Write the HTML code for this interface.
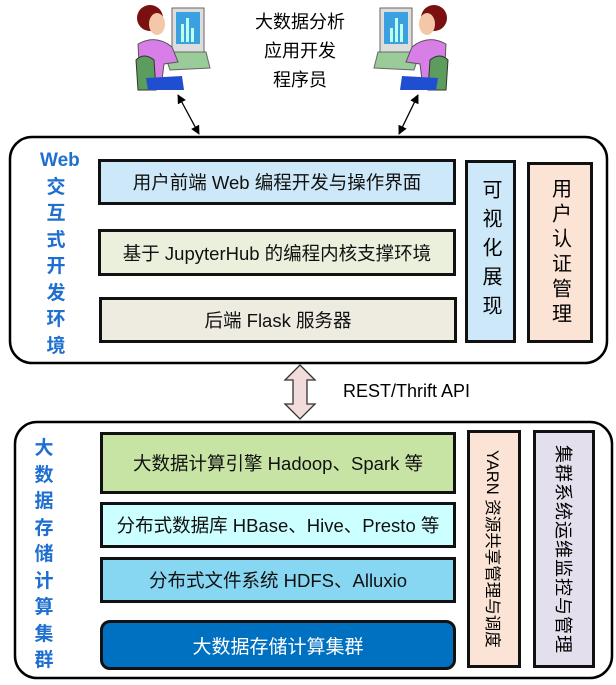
<!DOCTYPE html>
<html><head><meta charset="utf-8"><style>
body{margin:0;width:616px;height:685px;background:#fff;position:relative;overflow:hidden;font-family:"Liberation Sans","Noto Sans CJK SC",sans-serif}
.a{position:absolute;box-sizing:border-box}
.bx{border:3px solid #111;display:flex;align-items:center;justify-content:center;font-size:18.5px;color:#111;white-space:nowrap}
.v{writing-mode:vertical-rl;text-orientation:upright;display:flex;align-items:center;justify-content:center;font-size:20px;border:3px solid #111;letter-spacing:9px;white-space:nowrap}
.s{text-orientation:sideways;letter-spacing:0;font-size:16.5px}
.lbl{color:#1f6fd0;font-weight:bold;font-size:19px;text-align:center;line-height:26.5px}
</style></head><body>
<svg class="a" style="left:0;top:0" width="616" height="685">
<defs>
<g id="p">
<rect x="38" y="6" width="32" height="44" fill="#ddd" stroke="#666"/>
<rect x="42" y="10" width="24" height="32" fill="#3aa0e0"/>
<rect x="47" y="22" width="3" height="18" fill="#bfe"/><rect x="52" y="16" width="3" height="24" fill="#bfe"/><rect x="57" y="26" width="3" height="14" fill="#bfe"/>
<polygon points="30,50 72,50 76,66 36,68" fill="#9c9" stroke="#666"/>
<ellipse cx="16" cy="16" rx="13" ry="13" fill="#7a1010"/>
<ellipse cx="23" cy="22" rx="8" ry="11" fill="#f3c7a8"/>
<path d="M4 42 Q22 32 38 45 L44 60 L30 62 L28 78 L6 78Z" fill="#d77fe6" stroke="#555"/>
<path d="M2 58 Q10 50 20 58 L22 88 L4 88Z" fill="#5c9c5c" stroke="#333"/>
<path d="M12 76 L48 74 L50 88 L14 88Z" fill="#1f4fd0"/>
</g>
<marker id="ah" viewBox="0 0 10 10" refX="9" refY="5" markerWidth="7" markerHeight="7" orient="auto-start-reverse"><path d="M0 0L10 5L0 10Z" fill="#000"/></marker>
</defs>
<use href="#p" transform="translate(134,2)"/>
<use href="#p" transform="translate(450,2) scale(-1,1)"/>
<line x1="178" y1="95" x2="199" y2="134" stroke="#000" stroke-width="1.3" marker-start="url(#ah)" marker-end="url(#ah)"/>
<line x1="418" y1="95" x2="399" y2="134" stroke="#000" stroke-width="1.3" marker-start="url(#ah)" marker-end="url(#ah)"/>
<rect x="10" y="137" width="597" height="226" rx="22" fill="none" stroke="#000" stroke-width="2.5"/>
<rect x="15" y="422" width="597" height="256" rx="22" fill="none" stroke="#000" stroke-width="2.5"/>
<polygon points="300,365 315,380 307,380 307,404 315,404 300,419 285,404 293,404 293,380 285,380" fill="#f2dcdb" stroke="#333" stroke-width="1.3"/>
</svg>
<div class="a" style="left:240px;top:8px;width:120px;text-align:center;font-size:18px;line-height:29px">大数据分析<br>应用开发<br>程序员</div>
<div class="a lbl" style="left:40px;top:148px;width:32px">Web<br>交<br>互<br>式<br>开<br>发<br>环<br>境</div>
<div class="a bx" style="left:98px;top:159px;width:358px;height:46px;background:#cde8f8">用户前端 Web 编程开发与操作界面</div>
<div class="a bx" style="left:98px;top:229px;width:358px;height:47px;background:#eaf0dc">基于 JupyterHub 的编程内核支撑环境</div>
<div class="a bx" style="left:99px;top:297px;width:358px;height:46px;background:#eeece0">后端 Flask 服务器</div>
<div class="a v" style="left:465px;top:160px;width:51px;height:183px;background:#cde8f8">可视化展现</div>
<div class="a v" style="left:527px;top:162px;width:66px;height:181px;background:#fbe4d5;letter-spacing:5px">用户认证管理</div>
<div class="a" style="left:343px;top:381px;font-size:18px">REST/Thrift API</div>
<div class="a lbl" style="left:28px;top:436px;width:32px">大<br>数<br>据<br>存<br>储<br>计<br>算<br>集<br>群</div>
<div class="a bx" style="left:100px;top:432px;width:356px;height:62px;background:#c8e4a4">大数据计算引擎 Hadoop、Spark 等</div>
<div class="a bx" style="left:100px;top:502px;width:356px;height:46px;background:#ccffff">分布式数据库 HBase、Hive、Presto 等</div>
<div class="a bx" style="left:100px;top:557px;width:356px;height:46px;background:#87d6f2">分布式文件系统 HDFS、Alluxio</div>
<div class="a bx" style="left:100px;top:620px;width:356px;height:50px;background:#0070c0;color:#fff;border-radius:10px;font-size:19px">大数据存储计算集群</div>
<div class="a v s" style="left:467px;top:430px;width:54px;height:238px;background:#fbe4d5">YARN 资源共享管理与调度</div>
<div class="a v s" style="left:533px;top:430px;width:62px;height:238px;background:#e4dfec;font-size:18px;letter-spacing:1px">集群系统运维监控与管理</div>
</body></html>
